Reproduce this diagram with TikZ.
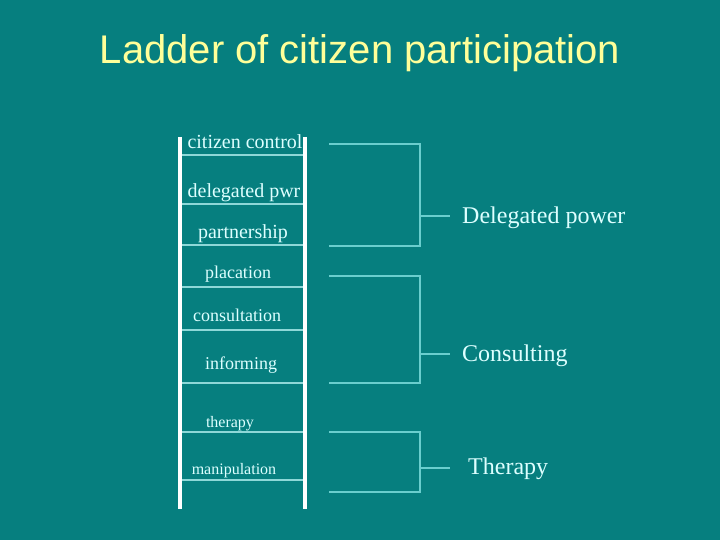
\documentclass[tikz,border=0pt]{standalone}
\usepackage{fontspec}
\setmainfont{Liberation Serif}
\newfontfamily\titlefont{Liberation Sans}
\definecolor{bg}{HTML}{067F7F}
\definecolor{titlecol}{HTML}{FFFF99}
\definecolor{txt}{HTML}{DDFFFF}
\definecolor{rung}{HTML}{8ED8D8}
\definecolor{brk}{HTML}{6ACECE}
\begin{document}
\begin{tikzpicture}[x=1pt,y=-1pt,
  rail/.style={white,line width=3.5pt},
  rungline/.style={rung,line width=1.2pt},
  brkline/.style={brk,line width=1.3pt},
  steplbl/.style={text=txt,inner sep=0pt,anchor=base,font=\fontsize{20}{22}\selectfont},
  midlbl/.style={text=txt,inner sep=0pt,anchor=base,font=\fontsize{18}{20}\selectfont},
  smalllbl/.style={text=txt,inner sep=0pt,anchor=base,font=\fontsize{16}{18}\selectfont},
  grplbl/.style={text=txt,inner sep=0pt,anchor=base west,font=\fontsize{24}{28}\selectfont}]
\fill[bg] (0,0) rectangle (720,540);
\useasboundingbox (0,0) rectangle (720,540);
\node[text=titlecol,anchor=base,inner sep=0pt,font=\titlefont\fontsize{40}{46}\selectfont] (title) at (360,64) {Ladder of citizen participation};
% rails
\coordinate (lt) at (180,137); \coordinate (lb) at (180,509);
\coordinate (rt) at (305,137); \coordinate (rb) at (305,509);
\draw[rail] (lt) -- (lb);
\draw[rail] (rt) -- (rb);
% rungs
\foreach \y/\n in {155/1,204/2,245/3,287/4,330/5,383/6,432/7,480/8}{
  \coordinate (rl\n) at (182,\y); \coordinate (rr\n) at (303,\y);
  \draw[rungline] (rl\n) -- (rr\n);
}
% step labels
\node[steplbl] (s1) at (245,149) {citizen control};
\node[steplbl] (s2) at (244,197) {delegated pwr};
\node[steplbl] (s3) at (243,239) {partnership};
\node[midlbl] (s4) at (238,278) {placation};
\node[midlbl] (s5) at (237,321) {consultation};
\node[midlbl] (s6) at (241,369) {informing};
\node[smalllbl] (s7) at (230,427) {therapy};
\node[smalllbl] (s8) at (234,474) {manipulation};
% group labels
\node[grplbl] (g1) at (462,223) {Delegated power};
\node[grplbl] (g2) at (462,361) {Consulting};
\node[grplbl] (g3) at (468,474) {Therapy};
% brackets
\coordinate (b1a) at (329,144); \coordinate (b1b) at (329,246);
\coordinate (b1c) at (420,216); \coordinate (b1d) at (450,216);
\draw[brkline] (b1a) -| (b1c) |- (b1b);
\draw[brkline] (b1c) -- (b1d);
\coordinate (b2a) at (329,276); \coordinate (b2b) at (329,383);
\coordinate (b2c) at (420,354); \coordinate (b2d) at (450,354);
\draw[brkline] (b2a) -| (b2c) |- (b2b);
\draw[brkline] (b2c) -- (b2d);
\coordinate (b3a) at (329,432); \coordinate (b3b) at (329,492);
\coordinate (b3c) at (420,468); \coordinate (b3d) at (450,468);
\draw[brkline] (b3a) -| (b3c) |- (b3b);
\draw[brkline] (b3c) -- (b3d);
\end{tikzpicture}
\end{document}
